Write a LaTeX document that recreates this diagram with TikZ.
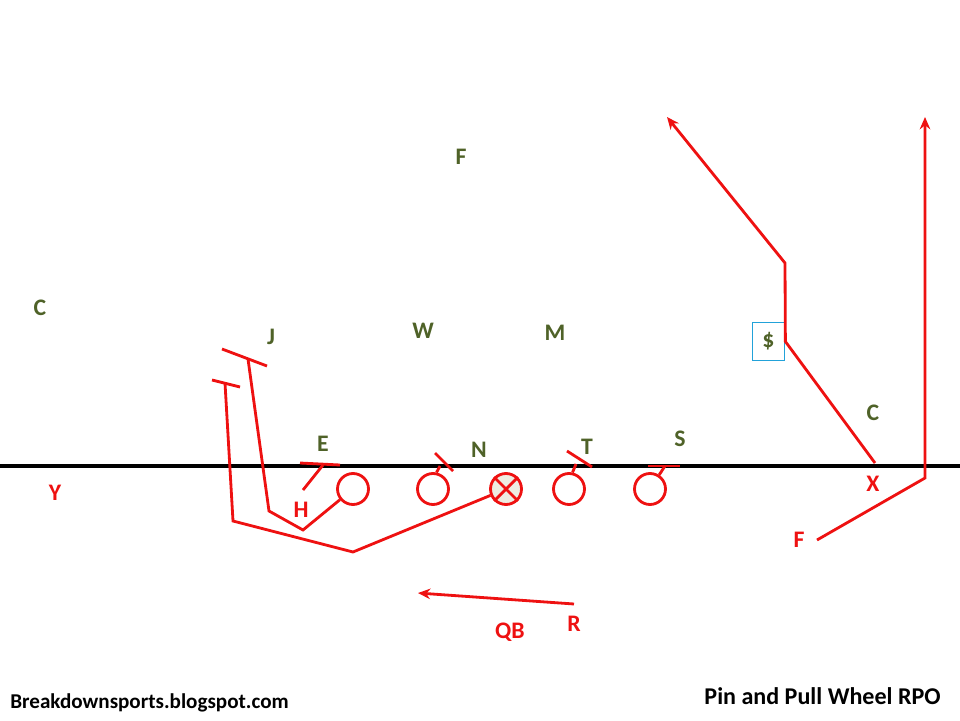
\documentclass[tikz,border=0pt]{standalone}
\usepackage{fontspec}
\setmainfont{Carlito}
\usepackage[svgnames]{xcolor}
\usetikzlibrary{arrows.meta}
\definecolor{defgreen}{HTML}{4F6228}
\definecolor{offred}{HTML}{EE1111}
\definecolor{keyblue}{HTML}{22A2D9}
\definecolor{ballgray}{HTML}{EEECE1}
\tikzset{
  defense/.style={text=defgreen, font=\fontsize{13.5}{15}\selectfont\bfseries},
  offense/.style={text=offred, font=\fontsize{13.5}{15}\selectfont\bfseries},
  lineman/.style={circle, draw=offred, line width=1.6pt, inner sep=0pt, minimum size=0.62cm},
  route/.style={draw=offred, line width=1.6pt},
  footer/.style={inner sep=0pt, font=\fontsize{12}{14}\selectfont\bfseries}
}
\begin{document}
\begin{tikzpicture}[x=0.02cm, y=-0.02cm]
\useasboundingbox (0,0) rectangle (960,720);%pixel grid of the reference

%%line of scrimmage
\coordinate (losl) at (0,466); \coordinate (losr) at (960,466);
\draw [black, line width=2pt] (losl) -- (losr);

%%defense
\node [defense] (fs) at (461,157) {F};
\node [defense] (cl) at (40,308) {C};
\node [defense] (jk) at (271,337) {J};
\node [defense] (wl) at (423,331) {W};
\node [defense] (ml) at (555,333) {M};
\node [defense] (el) at (323,444) {E};
\node [defense] (nt) at (479,450) {N};
\node [defense] (tk) at (587,447) {T};
\node [defense] (sl) at (680,439) {S};
\node [defense] (cr) at (873,413) {C};
\node [defense, draw=keyblue, line width=1pt, minimum width=0.64cm, minimum height=0.76cm] (dollar) at (768.5,341.5) {\$};

%%offense line
\node [lineman] (lt) at (353,489) {};
\node [lineman] (lg) at (433,489) {};
\node [lineman, fill=ballgray] (ctr) at (506,489) {};
\node [lineman] (rg) at (569,489) {};
\node [lineman] (rt) at (650,489) {};
\draw [route] (ctr.north west) -- (ctr.south east) (ctr.north east) -- (ctr.south west);

%%skill players
\node [offense] (yl) at (55,493) {Y};
\node [offense] (hb) at (301,510) {H};
\node [offense] (xr) at (873,484) {X};
\node [offense] (fl) at (799,540) {F};
\node [offense] (qb) at (510,632) {QB};
\node [offense] (rb) at (574,624) {R};

%%blocks
\coordinate (hk1) at (303,530); \coordinate (hk2) at (269,511); \coordinate (jt) at (248,359);
\coordinate (jb1) at (222,349); \coordinate (jb2) at (267,366);
\draw [route] (lt) -- (hk1) -- (hk2) -- (jt); \draw [route] (jb1) -- (jb2);
\coordinate (pk1) at (353,552); \coordinate (pk2) at (233,521); \coordinate (pt) at (225,383);
\coordinate (pb1) at (212,380); \coordinate (pb2) at (240,387);
\draw [route] (ctr) -- (pk1) -- (pk2) -- (pt); \draw [route] (pb1) -- (pb2);
\coordinate (eh) at (303,490); \coordinate (et) at (323,465);
\coordinate (eb1) at (300,463); \coordinate (eb2) at (340,465);
\draw [route] (eh) -- (et); \draw [route] (eb1) -- (eb2);
\coordinate (lgs) at (440,466); \coordinate (lgb1) at (435,453); \coordinate (lgb2) at (453,471);
\draw [route] (lg.78) -- (lgs); \draw [route] (lgb1) -- (lgb2);
\coordinate (rgs) at (576,464); \coordinate (rgb1) at (567,451); \coordinate (rgb2) at (592,467);
\draw [route] (rg.78) -- (rgs); \draw [route] (rgb1) -- (rgb2);
\coordinate (rts) at (665,466); \coordinate (rtb1) at (648,466); \coordinate (rtb2) at (680,466);
\draw [route] (rt.57) -- (rts); \draw [route] (rtb1) -- (rtb2);

%%routes
\coordinate (xs) at (875,463); \coordinate (xc) at (785,263); \coordinate (xt) at (667,117);
\draw [route, -{Stealth[length=7pt, width=6pt]}] (xs) -- (dollar.east) -- (xc) -- (xt);
\coordinate (fs0) at (817,540); \coordinate (fk) at (925,478); \coordinate (ft) at (925,117);
\draw [route, -{Stealth[length=7pt, width=6pt]}] (fs0) -- (fk) -- (ft);
\coordinate (rs) at (574,604); \coordinate (rtip) at (418,593);
\draw [route, -{Stealth[length=7pt, width=6pt]}] (rs) -- (rtip);

%%footer
\node [footer, anchor=west] (site) at (10,703) {Breakdownsports.blogspot.com};
\node [footer, anchor=east, font=\fontsize{13.7}{16}\selectfont\bfseries] (title) at (941,696) {Pin and Pull Wheel RPO};
\end{tikzpicture}
\end{document}
